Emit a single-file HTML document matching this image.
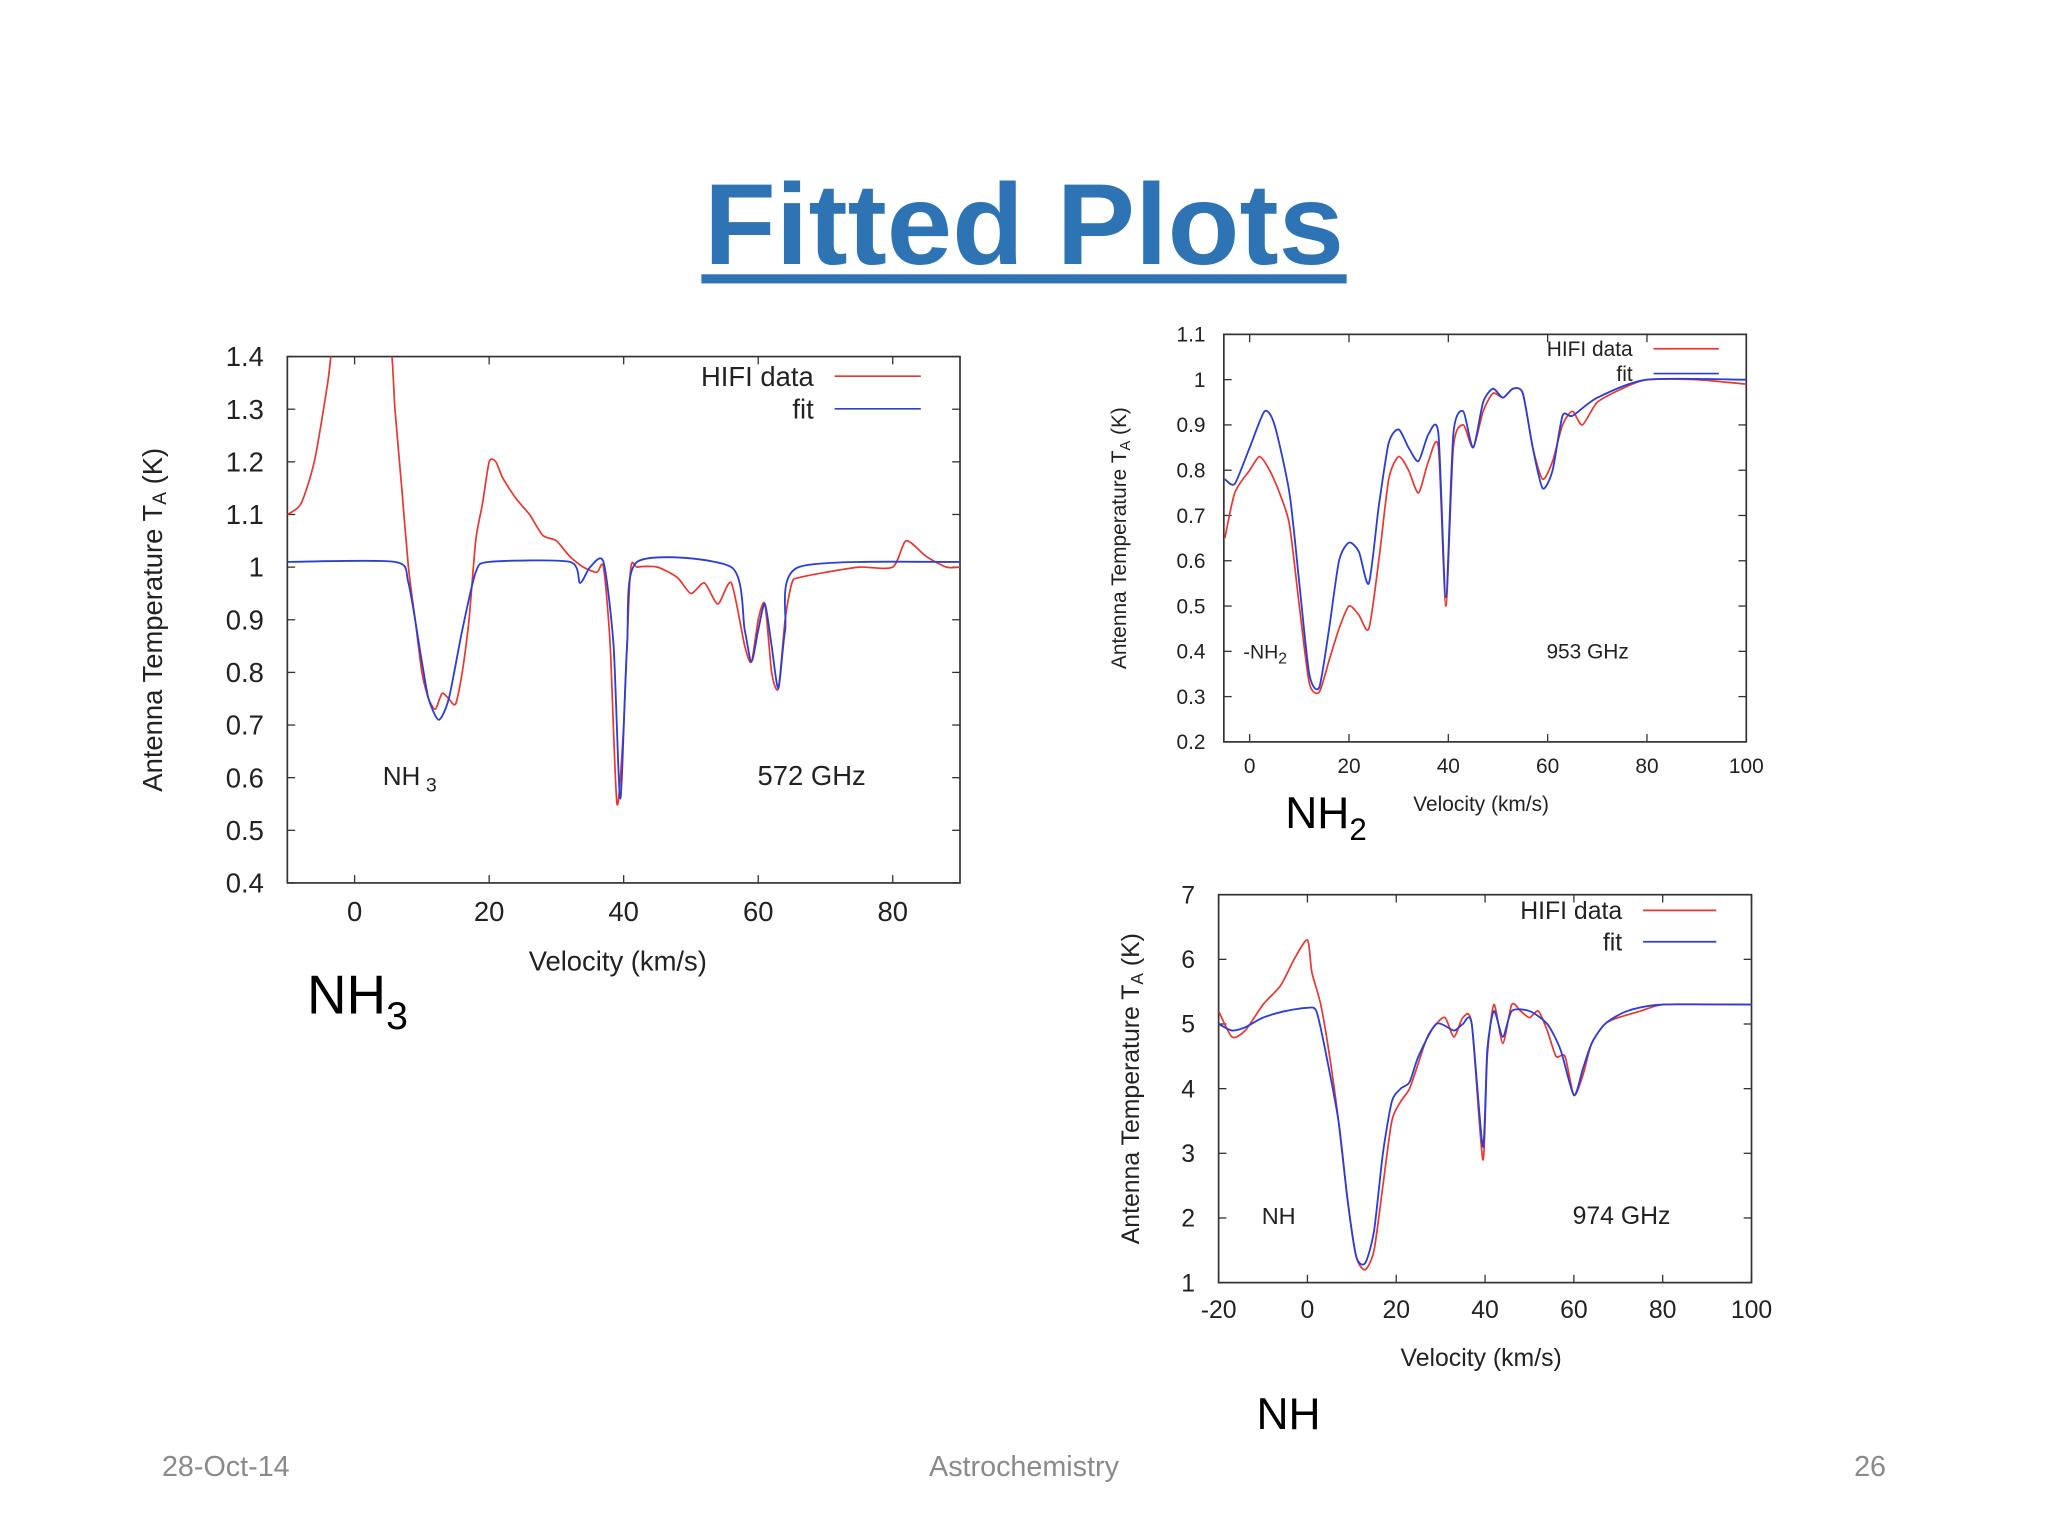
<!DOCTYPE html>
<html><head><meta charset="utf-8"><style>
html,body{margin:0;padding:0;background:#fff;}
svg{display:block;font-family:"Liberation Sans",sans-serif;}
</style></head><body>
<svg id="slide" width="2048" height="1536" viewBox="0 0 1568 1176" xmlns="http://www.w3.org/2000/svg">
<rect width="1568" height="1176" fill="#fff"/>
<text x="784" y="202" text-anchor="middle" font-size="88" font-weight="bold" fill="#2e74b5" textLength="490" lengthAdjust="spacingAndGlyphs">Fitted Plots</text>
<rect x="537" y="210" width="494" height="7" fill="#2e74b5"/>
<text x="124" y="1130" font-size="22" fill="#8a8a8a">28-Oct-14</text>
<text x="784" y="1130" font-size="22" fill="#8a8a8a" text-anchor="middle">Astrochemistry</text>
<text x="1444" y="1130" font-size="22" fill="#8a8a8a" text-anchor="end">26</text>
<text x="235" y="776" font-size="42">NH<tspan font-size="30" dy="12">3</tspan></text>
<text x="984" y="634" font-size="34">NH<tspan font-size="24" dy="9">2</tspan></text>
<text x="962" y="1094" font-size="34">NH</text>
<g id="charts"></g>
</svg>
<script>
// ---- NH3 chart data ----
const nh3DataV=[-10,-8,-6,-4,-3,0,5,6,7,8,9,10,11,12,13,14,15,16,17,18,19,20,21,22,24,26,28,30,32,34,36,37,38,39,40,41,42,45,48,50,52,54,56,58,59,60,61,62,63,64,65,66,70,75,80,82,85,88,90];
const nh3DataT=[1.1,1.12,1.2,1.35,1.45,1.6,1.45,1.3,1.15,1.0,0.9,0.8,0.75,0.73,0.76,0.75,0.74,0.8,0.9,1.05,1.12,1.2,1.2,1.17,1.13,1.1,1.06,1.05,1.02,1.0,0.99,1.0,0.85,0.55,0.7,0.99,1.0,1.0,0.98,0.95,0.97,0.93,0.97,0.85,0.82,0.9,0.93,0.8,0.77,0.9,0.97,0.98,0.99,1.0,1.0,1.05,1.02,1.0,1.0];
const nh3FitV=[-10,6,8,10,11,12.5,14,16,18,20,32,33.5,35,37,38.5,39.5,40.5,42,56,58,59,60,61,62,63,64,66,90];
const nh3FitT=[1.01,1.01,0.97,0.82,0.75,0.71,0.75,0.88,0.99,1.01,1.01,0.97,1.0,1.01,0.85,0.56,0.85,1.01,1.0,0.88,0.82,0.88,0.93,0.85,0.77,0.88,1.0,1.01];
const nh3XTicks=[0,20,40,60,80];
const nh3YTicks=[0.4,0.5,0.6,0.7,0.8,0.9,1,1.1,1.2,1.3,1.4];
// ---- NH2 chart data ----
const nh2DataV=[-5,-3,0,2,4,6,8,10,12,14,16,18,20,22,24,26,28,30,32,34,36,38,39.5,41,43,45,47,49,51,53,55,57,59,61,63,65,67,70,75,80,90,100];
const nh2DataT=[0.65,0.75,0.8,0.83,0.8,0.75,0.68,0.5,0.33,0.31,0.38,0.45,0.5,0.48,0.45,0.6,0.78,0.83,0.8,0.75,0.82,0.85,0.5,0.85,0.9,0.85,0.93,0.97,0.96,0.98,0.97,0.85,0.78,0.82,0.9,0.93,0.9,0.95,0.98,1.0,1.0,0.99];
const nh2FitV=[-5,-3,0,3,5,8,10,12,14,16,18,20,22,24,26,28,30,32,34,36,38,39.5,41,43,45,47,49,51,53,55,57,59,61,63,65,70,80,100];
const nh2FitT=[0.78,0.77,0.85,0.93,0.9,0.75,0.55,0.35,0.32,0.45,0.6,0.64,0.62,0.55,0.72,0.86,0.89,0.85,0.82,0.88,0.88,0.52,0.88,0.93,0.85,0.95,0.98,0.96,0.98,0.97,0.85,0.76,0.8,0.92,0.92,0.96,1.0,1.0];
const nh2XTicks=[0,20,40,60,80,100];
const nh2YTicks=[0.2,0.3,0.4,0.5,0.6,0.7,0.8,0.9,1,1.1];
// ---- NH chart data ----
const nhDataV=[-20,-17,-14,-10,-6,-3,0,1,3,5,7,9,11,13,15,17,19,21,23,25,27,29,31,33,35,37,39.5,40.5,42,44,46,48,50,52,54,56,58,60,62,64,67,70,75,80,90,100];
const nhDataT=[5.2,4.8,4.9,5.3,5.6,6.0,6.3,5.8,5.3,4.5,3.5,2.3,1.4,1.2,1.5,2.5,3.5,3.8,4.0,4.4,4.8,5.0,5.1,4.8,5.1,5.0,2.9,4.5,5.3,4.7,5.3,5.2,5.1,5.2,4.9,4.5,4.5,3.9,4.2,4.7,5.0,5.1,5.2,5.3,5.3,5.3];
const nhFitV=[-20,-17,-14,-10,-5,0,2,4,7,9,11,13,15,17,19,21,23,25,29,33,35,37,39.5,40.5,42,44,46,50,54,57,60,62,64,67,72,80,100];
const nhFitT=[5.0,4.9,4.95,5.1,5.2,5.25,5.2,4.6,3.5,2.3,1.4,1.3,1.8,3.0,3.8,4.0,4.1,4.5,5.0,4.9,5.0,5.0,3.1,4.6,5.2,4.8,5.2,5.2,5.0,4.6,3.9,4.3,4.7,5.0,5.2,5.3,5.3];
const nhXTicks=[-20,0,20,40,60,80,100];
const nhYTicks=[1,2,3,4,5,6,7];

const NS="http://www.w3.org/2000/svg";
const root=document.getElementById('charts');
function mk(tag,attrs,parent){const e=document.createElementNS(NS,tag);for(const k in attrs)e.setAttribute(k,attrs[k]);(parent||root).appendChild(e);return e;}
function smooth(P){
  let d='M'+P[0][0].toFixed(1)+','+P[0][1].toFixed(1);
  for(let i=0;i<P.length-1;i++){
    const p0=P[Math.max(0,i-1)],p1=P[i],p2=P[i+1],p3=P[Math.min(P.length-1,i+2)];
    const t=0.12;
    const c1=[p1[0]+(p2[0]-p0[0])*t,p1[1]+(p2[1]-p0[1])*t];
    const c2=[p2[0]-(p3[0]-p1[0])*t,p2[1]-(p3[1]-p1[1])*t];
    d+=' C'+c1[0].toFixed(1)+','+c1[1].toFixed(1)+' '+c2[0].toFixed(1)+','+c2[1].toFixed(1)+' '+p2[0].toFixed(1)+','+p2[1].toFixed(1);
  }
  return d;
}
function chart(o){
  const g=mk('g',{});
  
  
  const sx=v=>o.x0+(v-o.xmin)/(o.xmax-o.xmin)*(o.x1-o.x0);
  const sy=t=>o.y1-(t-o.ymin)/(o.ymax-o.ymin)*(o.y1-o.y0);
  const cid='clip-'+o.name;
  const cp=mk('clipPath',{id:cid},g);mk('rect',{x:o.x0,y:o.y0,width:o.x1-o.x0,height:o.y1-o.y0},cp);
  const box=mk('rect',{x:o.x0,y:o.y0,width:o.x1-o.x0,height:o.y1-o.y0,fill:'none',stroke:'#333','stroke-width':1.3},g);
  
  
  o.xt.forEach(v=>{
    const x=sx(v);
    mk('line',{x1:x,x2:x,y1:o.y1,y2:o.y1-6,stroke:'#333'},g);
    mk('line',{x1:x,x2:x,y1:o.y0,y2:o.y0+6,stroke:'#333'},g);
    const t=mk('text',{x:x,y:o.y1+o.fs+8,'font-size':o.fs,'text-anchor':'middle',fill:'#222'},g);
    t.textContent=v;
    
    
  });
  o.yt.forEach(v=>{
    const y=sy(v);
    mk('line',{x1:o.x0,x2:o.x0+6,y1:y,y2:y,stroke:'#333'},g);
    mk('line',{x1:o.x1,x2:o.x1-6,y1:y,y2:y,stroke:'#333'},g);
    const t=mk('text',{x:o.x0-o.ylabOff,y:y+o.fs*0.35,'font-size':o.fs,'text-anchor':'end',fill:'#222'},g);
    t.textContent=v;
    
    
  });
  const xl=mk('text',{x:o.xTitleX,y:o.xTitleY,'font-size':o.fs,'text-anchor':'middle',fill:'#222'},g);
  xl.textContent='Velocity (km/s)';
  
  
  const yx=o.yTitleX, yy=(o.y0+o.y1)/2;
  const yl=mk('text',{x:yx,y:yy,'font-size':o.fs,'text-anchor':'middle',fill:'#222',transform:`rotate(-90 ${yx} ${yy})`},g);
  yl.innerHTML='Antenna Temperature T<tspan font-size="'+(o.fs*0.7)+'" dy="3">A</tspan><tspan dy="-3"> (K)</tspan>';
  
  
  const pts=(V,T)=>V.map((v,i)=>[sx(v),sy(T[i])]);
  const d=mk('path',{d:smooth(pts(o.dv,o.dt)),fill:'none',stroke:'#e8372f','stroke-width':1.3,'clip-path':`url(#${cid})`},g);
  
  
  const f=mk('path',{d:smooth(pts(o.fv,o.ft)),fill:'none',stroke:'#2b3fd6','stroke-width':1.4,'clip-path':`url(#${cid})`},g);
  
  
  if(o.legend){
    const L=o.legend;
    [['HIFI data','#e8372f'],['fit','#2b3fd6']].forEach((e,i)=>{
      const y=L.y+i*L.dy;
      const t=mk('text',{x:L.x,y:y+o.fs*0.35,'font-size':o.lfs,'text-anchor':'end',fill:'#222'},g);
      t.textContent=e[0];
      
      
      mk('line',{x1:L.x+16,x2:L.x+16+L.len,y1:y,y2:y,stroke:e[1],'stroke-width':1.3},g);
    });
  }
  o.labels.forEach(l=>{
    const t=mk('text',{x:l[0],y:l[1],'font-size':l[3],fill:'#222'},g);
    t.innerHTML=l[2];
    
    
  });
}
chart({name:'nh3-chart',x0:220,x1:735,y0:273,y1:676,xmin:-10,xmax:90,ymin:0.4,ymax:1.4,xt:nh3XTicks,yt:nh3YTicks,fs:21,ylabOff:18,yTitleX:124,xTitleX:473,xTitleY:743,
  dv:nh3DataV,dt:nh3DataT,fv:nh3FitV,ft:nh3FitT,legend:{x:623,y:288,dy:25,len:66},lfs:21,
  labels:[[293,601,'NH<tspan font-size="15" dy="5"> 3</tspan>',20],[580,601,'572 GHz',21]]});
chart({name:'nh2-chart',x0:937,x1:1337,y0:256,y1:568,xmin:-5.2,xmax:100,ymin:0.2,ymax:1.1,xt:nh2XTicks,yt:nh2YTicks,fs:16,ylabOff:14,yTitleX:862,xTitleX:1134,xTitleY:621,
  dv:nh2DataV,dt:nh2DataT,fv:nh2FitV,ft:nh2FitT,legend:{x:1250,y:267,dy:19,len:50},lfs:16,
  labels:[[952,504,'-NH<tspan font-size="12" dy="4">2</tspan>',15],[1184,504,'953 GHz',16]]});
chart({name:'nh-chart',x0:933,x1:1341,y0:685,y1:982,xmin:-20,xmax:100,ymin:1,ymax:7,xt:nhXTicks,yt:nhYTicks,fs:19,ylabOff:18,yTitleX:872,xTitleX:1134,xTitleY:1046,
  dv:nhDataV,dt:nhDataT,fv:nhFitV,ft:nhFitT,legend:{x:1242,y:697,dy:24,len:56},lfs:19,
  labels:[[966,937,'NH',18],[1204,937,'974 GHz',19]]});
</script>
</body></html>
